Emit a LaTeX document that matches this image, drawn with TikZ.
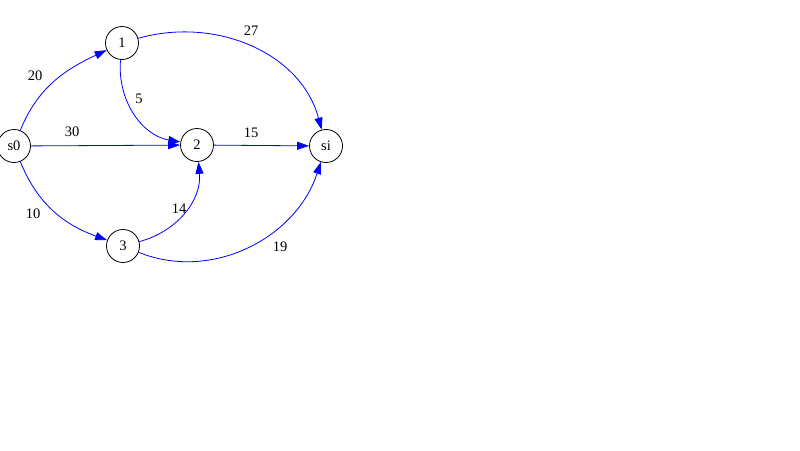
\documentclass[tikz,border=0pt]{standalone}
\usepackage{fontspec}
\setmainfont{Liberation Serif}
\usetikzlibrary{arrows.meta}
\begin{document}
\begin{tikzpicture}[x=1pt,y=-1pt,
  vert/.style={draw=black,circle,minimum size=33pt,inner sep=0pt,font=\fontsize{14.5}{14.5}\selectfont,line width=0.8pt},
  edge/.style={draw=blue,line width=0.8pt,-{Triangle[length=12pt,width=8pt]}},
  lab/.style={font=\fontsize{14.5}{14.5}\selectfont}]
\useasboundingbox (0,0) rectangle (800,450);
\fill[white] (0,0) rectangle (800,450);
\node[vert] (s0) at (14,146) {s0};
\node[vert] (n1) at (122,43) {1};
\node[vert] (n2) at (197,145) {2};
\node[vert] (si) at (326,146) {si};
\node[vert] (n3) at (123,246) {3};
\draw[edge] (s0) to[out=68,in=205] (n1);
\draw[edge] (s0) -- (n2);
\draw[edge] (s0) to[out=-68,in=160] (n3);
\draw[edge] (n1) to[out=-95,in=170] (n2);
\draw[edge] (n1) to[out=16,in=105] (si);
\draw[edge] (n2) -- (si);
\draw[edge] (n3) to[out=15,in=-85] (n2);
\draw[edge] (n3) to[out=-22,in=-108] (si);
\node[lab] (l20) at (35,76) {20};
\node[lab] (l30) at (72,132) {30};
\node[lab] (l10) at (33,214) {10};
\node[lab] (l5) at (139,99) {5};
\node[lab] (l27) at (251,31) {27};
\node[lab] (l15) at (251,133) {15};
\node[lab] (l14) at (179,209) {14};
\node[lab] (l19) at (280,247) {19};
\end{tikzpicture}
\end{document}
